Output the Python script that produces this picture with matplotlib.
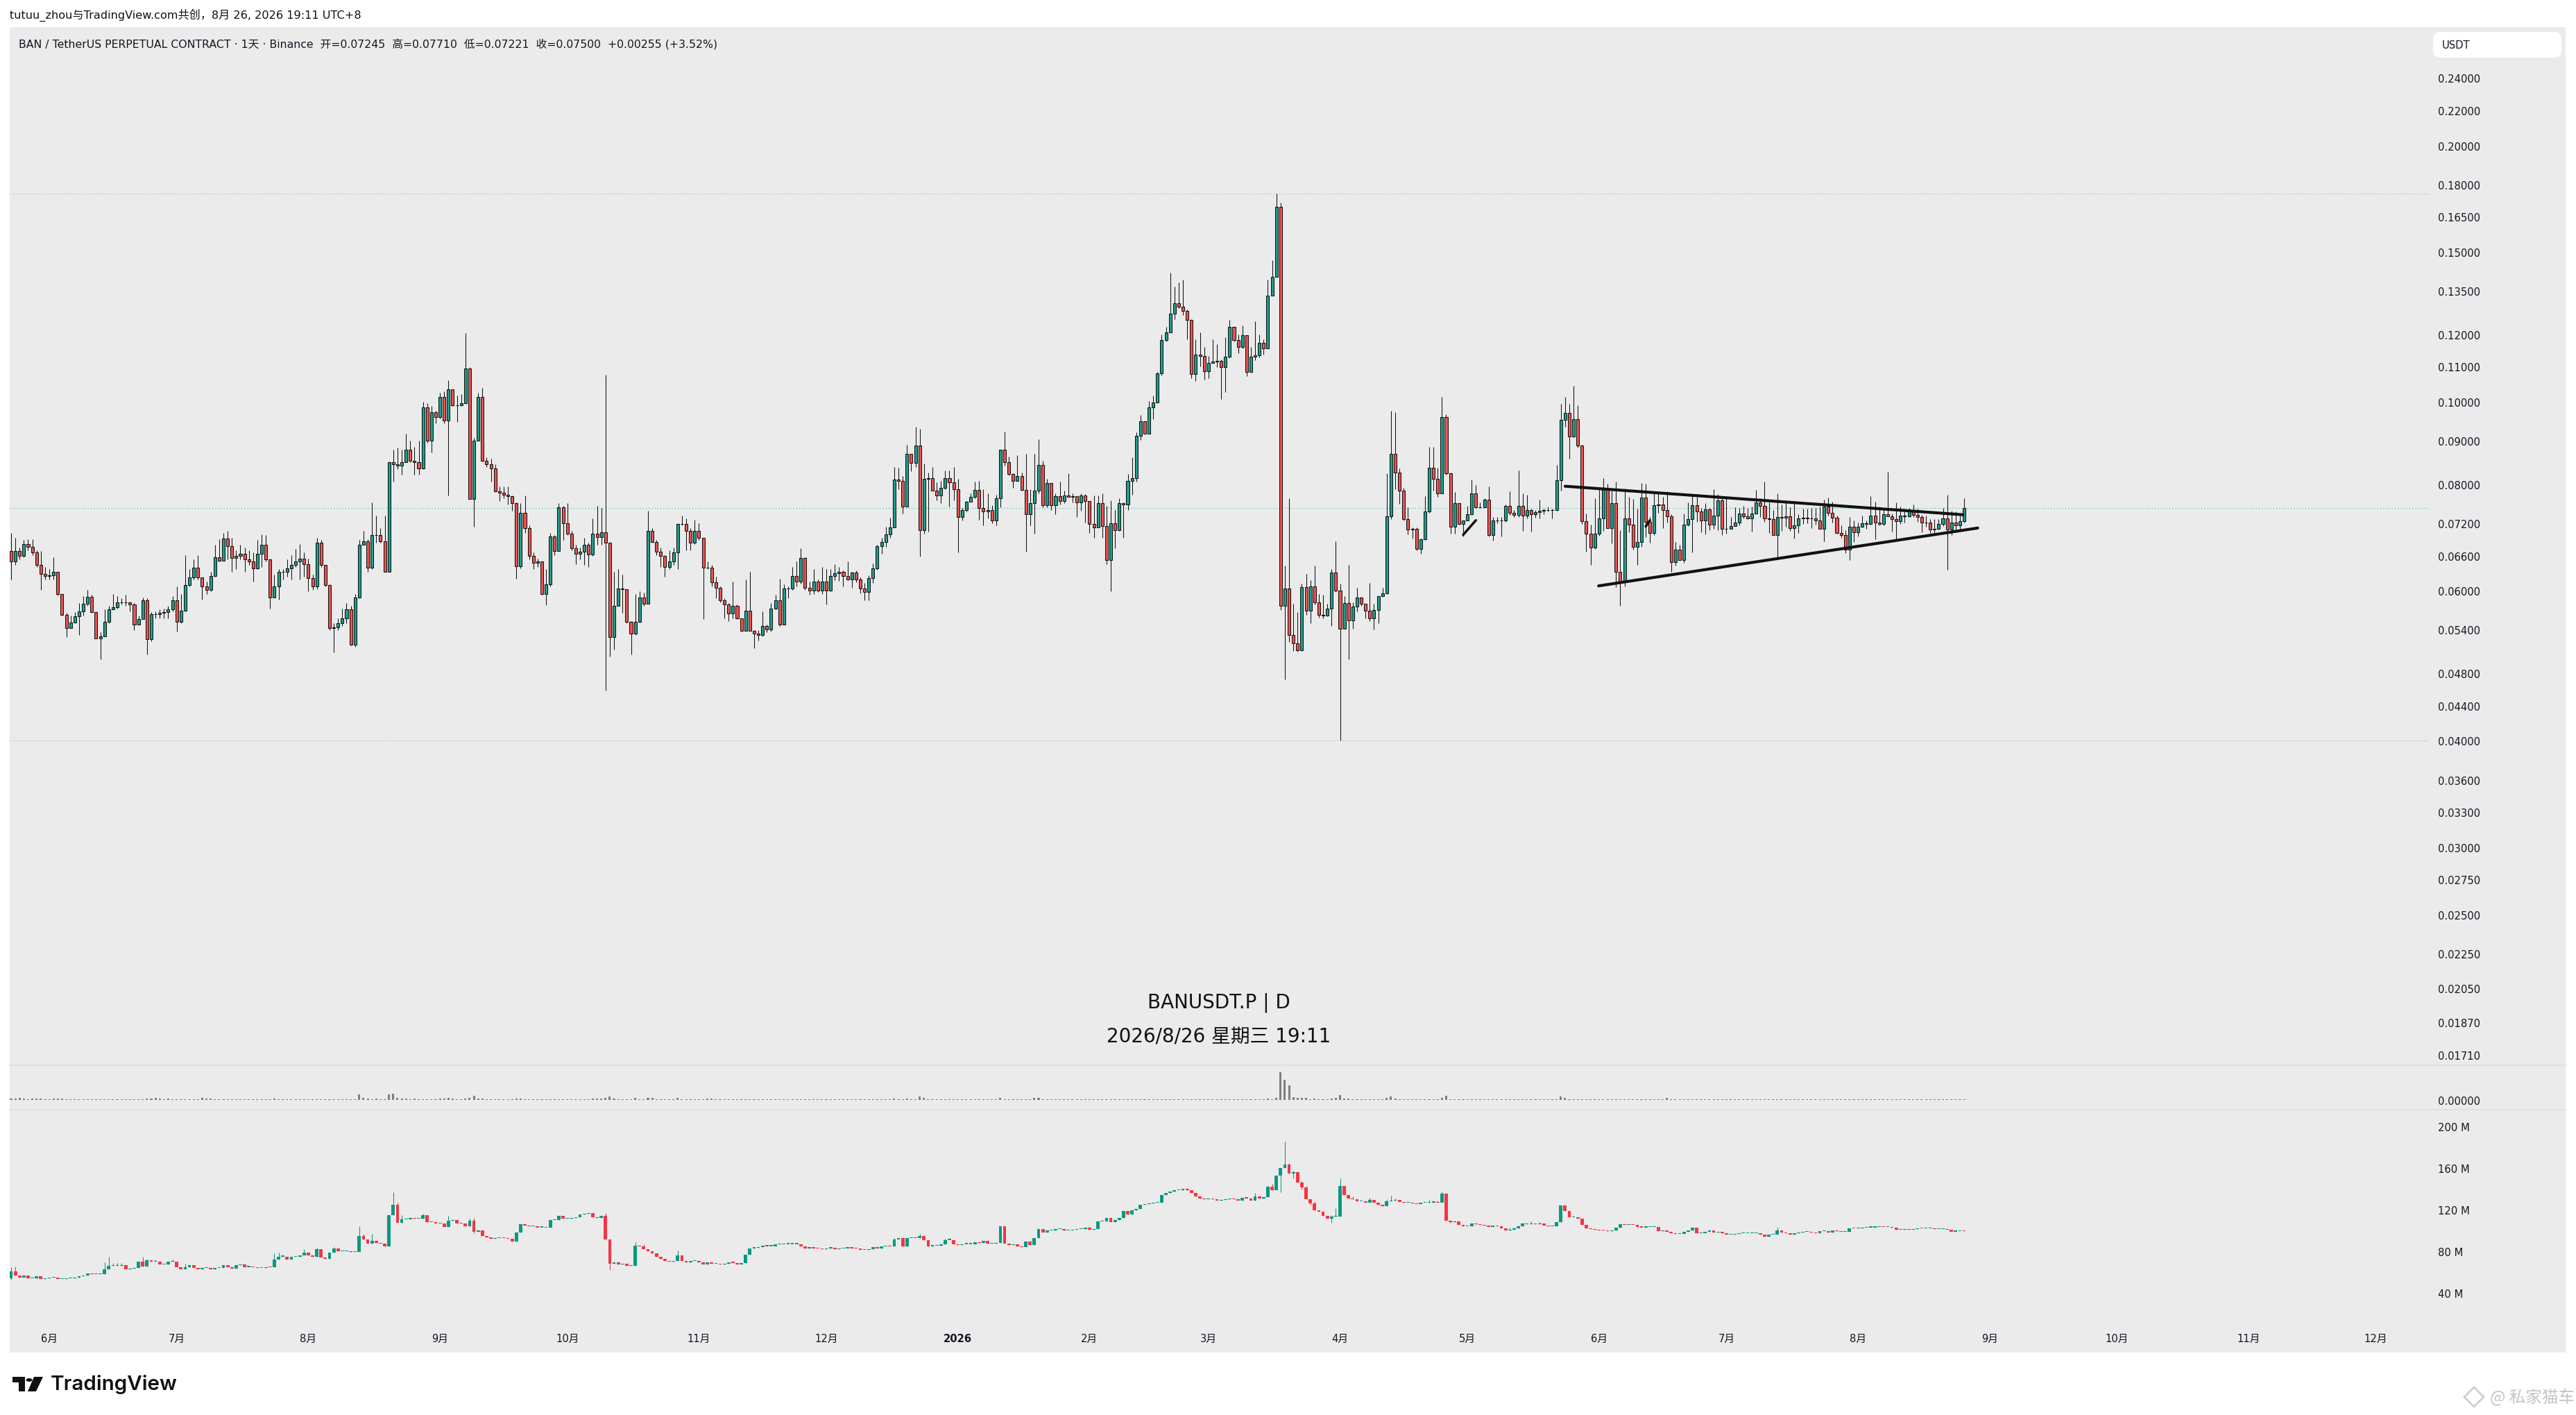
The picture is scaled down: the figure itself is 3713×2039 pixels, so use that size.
import numpy as np
import pandas as pd
import matplotlib
matplotlib.use("Agg")
import matplotlib.pyplot as plt
from matplotlib.patches import Rectangle, Polygon, Circle, FancyBboxPatch

# daily candles (open = previous close)
first_open = 0.0668
closes = [
    .0650,.0668,.0660,.0681,.0676,.0665,.0644,.0628,.0625,.0626,
    .0631,.0595,.0562,.0543,.0551,.0560,.0568,.0579,.0590,.0566,
    .0527,.0530,.0552,.0571,.0574,.0581,.0581,.0582,.0578,.0548,
    .0556,.0585,.0526,.0563,.0563,.0565,.0566,.0571,.0585,.0552,
    .0569,.0610,.0622,.0639,.0622,.0607,.0601,.0625,.0657,.0651,
    .0691,.0677,.0656,.0660,.0663,.0653,.0650,.0637,.0663,.0680,
    .0653,.0589,.0607,.0631,.0631,.0637,.0644,.0650,.0655,.0645,
    .0621,.0607,.0683,.0644,.0610,.0543,.0544,.0550,.0557,.0571,
    .0519,.0589,.0680,.0686,.0639,.0697,.0697,.0686,.0632,.0849,
    .0844,.0841,.0849,.0879,.0853,.0850,.0835,.0985,.0900,.0972,
    .0959,.1014,.0951,.1034,.0991,.0991,.0996,.1094,.0769,.0900,
    .1014,.0853,.0844,.0835,.0785,.0782,.0778,.0775,.0760,.0641,
    .0741,.0711,.0659,.0647,.0649,.0595,.0611,.0695,.0668,.0752,
    .0720,.0700,.0673,.0663,.0667,.0680,.0662,.0700,.0694,.0703,
    .0683,.0529,.0576,.0604,.0603,.0552,.0534,.0552,.0589,.0579,
    .0706,.0685,.0667,.0660,.0640,.0649,.0666,.0719,.0719,.0706,
    .0683,.0706,.0692,.0639,.0639,.0614,.0605,.0585,.0578,.0564,
    .0576,.0557,.0538,.0569,.0538,.0534,.0532,.0546,.0540,.0572,
    .0585,.0548,.0604,.0604,.0625,.0615,.0656,.0605,.0600,.0615,
    .0600,.0615,.0600,.0624,
    .0629,.0631,.0624,.0619,.0630,.0619,.0604,.0598,.0621,.0637,
    .0677,.0685,.0699,.0712,.0811,.0808,.0753,.0868,.0848,.0888,
    .0707,.0812,.0813,.0787,.0776,.0792,.0813,.0804,.0789,.0733,
    .0746,.0763,.0773,.0788,.0750,.0743,.0746,.0726,.0771,.0878,
    .0850,.0823,.0807,.0818,.0788,.0738,.0760,.0787,.0843,.0756,
    .0803,.0756,.0775,.0765,.0776,.0774,.0775,.0762,.0776,.0765,
    .0719,.0712,.0760,.0715,.0652,.0720,.0707,.0760,.0758,.0808,
    .0813,.0913,.0949,.0918,.0985,.0999,.1080,.1181,.1206,.1270,
    .1306,.1293,.1279,.1248,.1078,.1136,.1131,.1087,.1111,.1115,
    .1118,.1099,.1130,.1225,.1181,.1160,.1198,.1084,.1130,.1134,
    .1174,.1155,.1332,.1402,.1695,.0576,.0604,.0532,.0521,.0511,
    .0606,.0569,.0607,.0581,.0562,.0561,.0572,.0630,.0600,.0542,
    .0580,.0554,.0575,.0589,.0579,.0569,.0557,.0570,.0591,.0596,
    .0734,.0869,.0826,.0787,.0729,.0708,.0710,.0672,.0690,.0744,
    .0837,.0812,.0780,.0960,.0824,.0713,.0761,.0719,.0725,.0738,
    .0781,.0752,.0752,.0767,.0698,.0725,.0725,.0725,.0755,.0741,
    .0736,.0755,.0735,.0747,.0738,.0742,.0745,.0746,.0746,.0747,
    .0809,.0953,.0971,.0911,.0955,.0888,.0724,.0700,.0675,.0700,
    .0730,.0789,.0711,.0760,.0632,.0615,.0730,.0718,.0676,.0684,
    .0772,.0723,.0701,.0756,.0757,.0747,.0734,.0648,.0671,.0652,
    .0718,.0729,.0756,.0743,.0726,.0748,.0718,.0735,.0766,.0709,
    .0709,.0715,.0721,.0739,.0734,.0730,.0739,.0762,.0755,.0730,
    .0729,.0698,.0733,.0731,.0734,.0711,.0716,.0730,.0731,.0730,
    .0730,.0725,.0710,.0754,.0741,.0731,.0701,.0698,.0671,.0714,
    .0703,.0713,.0720,.0719,.0735,.0722,.0719,.0738,.0734,.0728,
    .0724,.0735,.0734,.0743,.0736,.0732,.0721,.0721,.0708,.0709,
    .0719,.0730,.0708,.0721,.0716,.07245,.0750,
]
highs = [
    .0702,.0693,.0675,.0688,.0690,.0690,.0670,.0668,.0640,.0636,
    .0657,.0631,.0595,.0565,.0561,.0566,.0580,.0591,.0601,.0594,
    .0568,.0536,.0571,.0576,.0595,.0591,.0588,.0594,.0583,.0580,
    .0561,.0589,.0588,.0566,.0568,.0571,.0572,.0576,.0591,.0607,
    .0595,.0661,.0636,.0653,.0661,.0622,.0615,.0631,.0679,.0690,
    .0702,.0706,.0693,.0670,.0679,.0675,.0670,.0666,.0688,.0699,
    .0697,.0653,.0627,.0636,.0636,.0653,.0661,.0672,.0681,.0666,
    .0655,.0627,.0693,.0688,.0644,.0611,.0550,.0557,.0572,.0580,
    .0576,.0595,.0688,.0706,.0690,.0762,.0735,.0711,.0735,.0851,
    .0878,.0884,.0878,.0917,.0901,.0886,.0901,.1000,.0997,.0989,
    .0976,.1024,.1028,.1060,.1034,.1018,.1021,.1204,.1098,.0907,
    .1024,.1038,.0861,.0858,.0844,.0795,.0795,.0795,.0777,.0762,
    .0760,.0777,.0716,.0666,.0655,.0649,.0636,.0702,.0697,.0760,
    .0755,.0760,.0706,.0679,.0675,.0693,.0683,.0730,.0755,.0750,
    .1075,.0683,.0631,.0636,.0627,.0603,.0553,.0595,.0599,.0597,
    .0745,.0711,.0688,.0675,.0661,.0670,.0675,.0720,.0735,.0730,
    .0711,.0727,.0720,.0693,.0649,.0644,.0623,.0607,.0588,.0580,
    .0615,.0578,.0557,.0619,.0631,.0539,.0539,.0568,.0548,.0580,
    .0594,.0620,.0611,.0607,.0640,.0649,.0673,.0657,.0615,.0636,
    .0619,.0640,.0636,.0636,
    .0645,.0640,.0634,.0650,.0632,.0634,.0622,.0613,.0626,.0646,
    .0680,.0693,.0713,.0731,.0839,.0837,.0818,.0890,.0868,.0935,
    .0930,.0847,.0826,.0839,.0804,.0808,.0830,.0830,.0839,.0812,
    .0750,.0765,.0780,.0806,.0807,.0789,.0780,.0756,.0778,.0878,
    .0922,.0862,.0824,.0866,.0826,.0868,.0789,.0868,.0904,.0853,
    .0812,.0803,.0781,.0806,.0786,.0824,.0781,.0775,.0781,.0779,
    .0765,.0777,.0777,.0780,.0755,.0766,.0746,.0770,.0762,.0823,
    .0861,.0920,.0965,.0949,.1001,.1017,.1085,.1200,.1225,.1417,
    .1365,.1380,.1390,.1283,.1250,.1184,.1207,.1160,.1131,.1184,
    .1169,.1121,.1190,.1247,.1225,.1200,.1230,.1198,.1160,.1243,
    .1200,.1184,.1390,.1465,.1756,.1714,.0642,.0771,.0579,.0566,
    .0612,.0628,.0617,.0642,.0595,.0594,.0579,.0636,.0686,.0612,
    .0591,.0644,.0582,.0605,.0590,.0579,.0613,.0579,.0591,.0605,
    .0824,.0976,.0973,.0836,.0793,.0752,.0712,.0712,.0691,.0775,
    .0885,.0885,.0837,.1014,.0966,.0826,.0783,.0755,.0716,.0755,
    .0811,.0798,.0762,.0770,.0795,.0733,.0733,.0733,.0758,.0785,
    .0746,.0830,.0780,.0778,.0749,.0746,.0767,.0749,.0754,.0749,
    .0843,.0995,.1014,.0995,.1044,.0990,.0890,.0740,.0718,.0771,
    .0793,.0814,.0801,.0786,.0806,.0707,.0791,.0773,.0769,.0749,
    .0803,.0801,.0732,.0780,.0785,.0774,.0785,.0738,.0685,.0680,
    .0740,.0762,.0778,.0773,.0751,.0761,.0750,.0789,.0779,.0773,
    .0773,.0733,.0752,.0750,.0755,.0750,.0753,.0788,.0771,.0806,
    .0762,.0747,.0781,.0758,.0762,.0752,.0761,.0738,.0749,.0749,
    .0750,.0750,.0754,.0768,.0772,.0764,.0735,.0716,.0707,.0733,
    .0726,.0722,.0735,.0726,.0775,.0764,.0754,.0751,.0827,.0740,
    .0762,.0754,.0749,.0750,.0758,.0749,.0736,.0735,.0729,.0728,
    .0729,.0750,.0778,.0745,.0743,.0735,.0771,
]
lows = [
    .0619,.0644,.0653,.0657,.0670,.0661,.0640,.0601,.0619,.0619,
    .0619,.0593,.0561,.0529,.0543,.0550,.0532,.0561,.0576,.0565,
    .0527,.0499,.0532,.0550,.0571,.0572,.0578,.0576,.0568,.0539,
    .0548,.0556,.0505,.0524,.0557,.0557,.0557,.0557,.0568,.0537,
    .0550,.0568,.0607,.0619,.0619,.0586,.0595,.0599,.0623,.0649,
    .0653,.0653,.0631,.0636,.0653,.0631,.0644,.0615,.0636,.0640,
    .0649,.0572,.0589,.0586,.0619,.0623,.0619,.0640,.0619,.0623,
    .0599,.0601,.0603,.0640,.0607,.0539,.0508,.0539,.0546,.0550,
    .0518,.0516,.0588,.0681,.0631,.0636,.0683,.0683,.0631,.0631,
    .0806,.0833,.0822,.0849,.0849,.0822,.0822,.0833,.0895,.0872,
    .0944,.0956,.0944,.0777,.0989,.0947,.0989,.0995,.0775,.0713,
    .0901,.0851,.0838,.0806,.0783,.0765,.0770,.0757,.0745,.0620,
    .0638,.0702,.0653,.0636,.0640,.0594,.0577,.0607,.0661,.0668,
    .0688,.0697,.0670,.0645,.0653,.0644,.0640,.0659,.0679,.0679,
    .0458,.0502,.0512,.0576,.0565,.0550,.0505,.0532,.0551,.0576,
    .0581,.0683,.0661,.0640,.0623,.0636,.0644,.0636,.0716,.0670,
    .0670,.0681,.0688,.0556,.0636,.0607,.0588,.0582,.0557,.0553,
    .0557,.0556,.0537,.0538,.0538,.0514,.0525,.0530,.0536,.0537,
    .0571,.0546,.0548,.0588,.0601,.0607,.0612,.0601,.0594,.0595,
    .0598,.0595,.0578,.0599,
    .0617,.0616,.0607,.0617,.0605,.0614,.0596,.0585,.0585,.0613,
    .0635,.0663,.0676,.0693,.0712,.0789,.0739,.0753,.0829,.0839,
    .0658,.0700,.0704,.0786,.0766,.0761,.0790,.0754,.0766,.0665,
    .0725,.0744,.0763,.0771,.0727,.0716,.0730,.0720,.0716,.0752,
    .0841,.0820,.0793,.0807,.0786,.0667,.0716,.0700,.0780,.0752,
    .0752,.0747,.0738,.0758,.0761,.0773,.0762,.0733,.0745,.0722,
    .0701,.0693,.0712,.0693,.0645,.0599,.0673,.0705,.0693,.0747,
    .0778,.0806,.0902,.0917,.0918,.0954,.0999,.1073,.1178,.1207,
    .1250,.1289,.1265,.1183,.1065,.1058,.1100,.1062,.1065,.1111,
    .1099,.1007,.1026,.1126,.1178,.1141,.1155,.1072,.1084,.1120,
    .1128,.1136,.1155,.1332,.1402,.0570,.0472,.0523,.0510,.0509,
    .0510,.0562,.0550,.0578,.0558,.0557,.0560,.0546,.0598,.0400,
    .0542,.0499,.0542,.0567,.0576,.0557,.0553,.0541,.0550,.0591,
    .0595,.0729,.0789,.0759,.0725,.0699,.0691,.0669,.0663,.0689,
    .0741,.0787,.0774,.0780,.0822,.0700,.0700,.0717,.0695,.0725,
    .0737,.0750,.0750,.0752,.0695,.0687,.0720,.0695,.0723,.0737,
    .0732,.0733,.0705,.0730,.0704,.0731,.0730,.0738,.0744,.0730,
    .0745,.0787,.0935,.0857,.0908,.0884,.0719,.0667,.0644,.0672,
    .0696,.0706,.0711,.0682,.0606,.0576,.0607,.0703,.0671,.0643,
    .0676,.0694,.0683,.0697,.0741,.0711,.0721,.0632,.0642,.0652,
    .0647,.0715,.0666,.0723,.0703,.0699,.0707,.0709,.0707,.0698,
    .0700,.0712,.0715,.0716,.0730,.0729,.0704,.0738,.0733,.0723,
    .0702,.0697,.0657,.0706,.0713,.0706,.0691,.0701,.0719,.0720,
    .0711,.0717,.0709,.0686,.0735,.0721,.0700,.0692,.0664,.0652,
    .0684,.0695,.0712,.0710,.0718,.0690,.0716,.0716,.0734,.0704,
    .0687,.0719,.0721,.0733,.0733,.0723,.0703,.0714,.0701,.0697,
    .0708,.0715,.0635,.0697,.0704,.0706,.07221,
]

# bottom pane candles (millions)
oi_first_open = 54
oi_closes = [
    61,57,55,56.5,54,54,56,53.5,54,54.5,
    55,53.5,53.5,54,54,55,56,57,59,58,
    57.8,57.8,63,66,66,66,66.5,62.5,63.5,64,
    70,65.5,71.5,70,70,67.5,67.5,70,70,65,
    62.5,65,66.5,64,62.5,64,64,62.5,64,64,
    67,65,63.5,66.5,67.5,65,65,64.5,64,64,
    65,64.5,72,75,75,72,74.5,74.5,76,78.5,
    76,74.5,82,74,73,79,83,80,80,80,
    79.5,79.5,94.5,91.5,87.5,90,88,87.5,85,115,
    125,107.5,110.5,110.5,112,111.5,111.5,115,108,108,
    107,106.5,103.5,109.5,110,107,106.5,104,109.5,99,
    100,95,93.5,92,93,92.5,92.5,92,89.5,98,
    106,105,104,104,103,103,102.5,110,110,114,
    111.5,111.5,112,113,115.5,116,116.5,113,112,114,
    91.5,68.2,69.5,67.5,68,66,66,85.5,84.5,82,
    80,78,75,72.5,71,70,70.5,76,70.5,69.5,
    70.5,70.5,69.5,67.5,69.5,68,68,67.5,67.7,69.5,
    69,67.5,69,77,83,83.5,84,85.5,85,85,
    86.5,86.7,87,87,87,87,85,83,83.5,83,
    82.5,82,83,83.5,82,82.5,83,83.5,83,82.5,
    81.5,81.5,82,84,82.5,84.5,85,84.5,91.5,92.5,
    85,92.5,92.5,93,94.5,90.5,85,85.3,85.3,87,
    91,91,87,86,87,87,87,88.6,88,90,
    87.2,87.2,88,103.9,87.5,85.9,86.4,85,84,89.4,
    85.9,92.7,101.4,98.2,99.8,100.3,101.2,101.4,100.3,100.3,
    100.6,101.2,101.2,103,100.9,101.2,108.5,108.5,111.8,108,
    109.8,112,119,115.3,119.3,121,124.5,125.3,126,126.4,
    126.4,134.3,135.7,137.6,138.4,139,139.8,138.4,136.2,132.7,
    130.8,130.2,130.8,130.2,128.6,129.5,129.7,130.6,130,128.6,
    131.3,131,128.6,132.6,130.6,131.7,142,138.6,152.6,160,
    163.3,154.6,156,146,141.3,130,126,119.3,118,114,
    111.3,113.3,113.3,142.6,134,130.6,130,128,128,126.6,
    129.3,126.6,124.6,123.3,128,128.6,129.3,127.3,126.6,126.6,
    126,125.3,126.6,126.6,127,127.3,126.6,135.3,109.3,108,
    108.6,105.3,104,104,106.6,106,105.3,104.6,103.3,104.6,
    104,102,100,101,102,104,106.6,106,106.4,106.2,
    106.4,104.6,104,104.2,108,124,118.8,112.6,112.6,111.2,
    105.2,101.7,101.1,100.6,100.3,100.1,99.5,100.3,103,106.3,
    105.5,105.5,105.2,103.6,103,103.6,103.6,103.6,99.5,99.8,
    98.4,97.6,96.8,96.8,98.4,100.3,102.8,97.6,97.6,98.4,
    100.1,97.9,99,97.6,96,96.2,96.8,97.3,97.6,97.6,
    97.6,97.6,96.2,94.3,95.7,96.2,100.3,97.9,97.6,96,
    97.6,98.1,98.4,98.4,98.1,97.6,99.5,99.5,98.1,100.3,
    99.5,98.4,99,101.9,101.7,101.7,102.5,103,103,103.6,
    103.6,103.3,103.6,102.7,100.9,100.9,101.1,100.9,101.1,101.9,
    101.7,101.7,101.7,101.1,101.1,101.1,100.9,99,99.3,99.3,
    99.2,
]
# only the wicks that stick out visibly (candle index: value)
oi_wick_highs = {
    0:65, 1:65.5, 22:69.5, 23:75, 24:69, 25:69, 26:69, 31:74.5, 32:73, 34:72, 38:72, 41:68,
    62:78, 63:79, 69:82, 72:83.5, 76:84, 82:104, 83:96.7, 85:96.7, 90:136.7, 91:126.5,
    92:115, 97:116, 103:114, 108:111.6, 109:112, 140:117, 147:88.7, 149:86.5, 157:80.5,
    208:93, 214:97, 220:92, 293:136, 296:142.6, 297:144.6, 300:185.3, 301:164.6, 302:157.3,
    304:147.3, 305:142.6, 307:128, 311:114.6, 312:121.3, 313:150, 316:132.6, 320:131.3,
    324:130, 325:133.3, 326:130.6, 334:129.3, 336:128.6, 337:137.3, 340:109.3, 353:102.6,
    354:102.6, 355:104.6, 356:107.3, 358:108.6, 360:108, 416:103.5,
}
oi_wick_lows = {
    0:53, 109:97.5, 141:62, 299:136.6, 302:150, 304:139.3, 306:124.6, 311:107.3, 339:107.3,
}

# volume bars, in pane units
volumes = [
    2,2,3,2,1.5,2.5,2,2,1.5,1.5, 2,2,2,1.5,1.5,1.5,1,1,1,1,
    1.5,1,1.5,1,1,1.5,1,1,1.5,1.5, 1,1,2,2.5,3,2,1.5,2,1.5,1,
    1,1.5,1.5,1,1.5,3,2.5,2,1.5,1.5, 1,1,1,1,1.5,1.5,1,1,1.5,1,
    1.5,1.5,2,1.5,1,1,1.5,1.5,1,1.5, 1.5,1,1,1,1.5,1.5,1,1,1,1.5,
    1,1.5,8,3.5,2,1.5,2,1,1,8, 8.7,3,2,2.5,1.5,2,1.5,1.5,1.5,1.5,
    1.5,2,2.5,3,2,1,1,2.5,3,6, 2.5,2,1.5,1,1.5,1,1,1,1.5,2.5,
    2.5,1.5,1,1.5,1,1,1.5,1.5,1,1.5, 1,1,1.5,1,1,1.5,1.5,2,2,2,
    3,5.5,2,1.5,1,1,1,3.5,1,1, 3,3,1.5,1,1,1.5,1,3,1.5,1.5,
    1,1,1,1,2.5,2.5,1,1,1,1, 1,1,1,1.5,1,1,1,1,1,1.5,
    1.5,1,1,1,1,1,1,1,1,1, 1,1,1,1,1,1,1,1,1,1,
    1,1,1,1,1,1,1,1,2,1.5, 1.5,2.5,1,1,5.5,3,1.5,1.5,1,1,
    1,1,1,1,1,1,1,1,1,1, 1,1,1.5,3,1.5,1,1,1,1,1,
    1,3,3,1.5,1,1,1,1,1,1, 1,1,1.5,1,1,1.5,1,1,1,1.5,
    1,1,1.5,1,1,1,1.5,1,1,1, 1.5,1,1,1.5,1,1,1.5,1,1,1,
    1,1.5,1,1,1.5,1,1,1,1.5,1,
    1,1,1,1,1,1,2,1.5,3.5,40, 29,21,4.5,3.5,3.5,3.5,1.5,2.5,1.5,1,
    1,2.5,3.5,7.5,2,2,1.5,1,1,1, 1,1,1,1,3,5.5,2.5,1,1,1,
    1,1,1,1,1,1,1,3.5,6,1.5, 1,1,1,1,1,1,1,1,1,1,
    1,1,1,1,1,1,1,1,1,1, 1,1,1,1,1,5.5,3,1.5,1.5,1,
    1,1,1.5,1,1,1,1,1,1,1, 1,1,1,1,1.5,1,1,1,1,1,
    3,1,1,1.5,1,1,1,1,1,1, 1,1,1,1,1,1,1,1,1,1,
    1,1,1,1,1,1,1,1,1,1, 1,1,1,1,1,1,1,1,1,1,
    1,1,1,1,1,1,1,1,1,1, 1,1,1,1,1,1,1,1,1,1,
    1,1,1,1,1,1,1,1,1,1, 1,
]

price_ticks = [.24,.22,.20,.18,.165,.15,.135,.12,.11,.10,.09,.08,.072,.066,.06,.054,
               .048,.044,.04,.036,.033,.03,.0275,.025,.0225,.0205,.0187,.0171]
oi_ticks = [40, 80, 120, 160, 200]
start_date = "2025-05-23"
last_price = 0.075
top_level = 0.1756
bottom_level = 0.04

W, H = 3713, 2040
FONT = ["DejaVu Sans", "Noto Sans CJK SC"]
TEXT = "#131722"
UP, DOWN = "#1f9e8e", "#ef5350"
OI_UP, OI_DOWN = "#089981", "#f23645"
plt.rcParams["font.family"] = FONT

fig = plt.figure(figsize=(W / 100, H / 100), dpi=100, facecolor="white")


def fx(x):
    return x / W


def fy(y):
    return 1 - y / H


def pane(left, top, right, bottom):
    ax = fig.add_axes([fx(left), fy(bottom), (right - left) / W, (bottom - top) / H])
    ax.patch.set_alpha(0)
    for s in ax.spines.values():
        s.set_visible(False)
    ax.set_xlim(-0.33, 569.3)
    ax.yaxis.tick_right()
    ax.tick_params(axis="y", length=0, pad=10, labelsize=10.6, labelcolor=TEXT)
    ax.tick_params(axis="x", length=0, bottom=False, labelbottom=False)
    ax.minorticks_off()
    return ax


def body_wick(ax, o, c, h, l, up, down, edge, wick_w, width, min_h=0):
    idx = np.arange(len(c))
    is_up = c >= o
    cols = np.where(is_up, up, down)
    wick_cols = edge if edge else cols
    ax.vlines(idx, l, h, colors=wick_cols, linewidth=wick_w, zorder=2)
    ax.bar(idx, np.maximum(np.abs(c - o), min_h), bottom=np.minimum(o, c), width=width, color=cols,
           edgecolor=edge if edge else cols, linewidth=0.75 if edge else 0, zorder=3)


# chart background panel
fig.add_artist(Rectangle((fx(14), fy(1950)), 3684 / W, 1910 / H, transform=fig.transFigure,
                         facecolor="#ebebeb", edgecolor="none", zorder=-5))

# price pane
ax = pane(14, 40, 3500, 1536)
ax.set_yscale("log")
ax.set_ylim(0.01664, 0.2754)
c = np.array(closes)
o = np.r_[first_open, c[:-1]]
h = np.maximum(np.array(highs), np.maximum(o, c))
l = np.minimum(np.array(lows), np.minimum(o, c))
ax.axhline(top_level, color="#9c9c9c", lw=0.75, ls=(0, (1, 3)), zorder=1)
ax.axhline(bottom_level, color="#9c9c9c", lw=0.75, ls=(0, (1, 3)), zorder=1)
ax.axhline(last_price, color="#22ab94", lw=0.75, ls=(0, (1, 3)), zorder=1)
body_wick(ax, o, c, h, l, UP, DOWN, "#111111", 0.75, 0.66)
ax.set_yticks(price_ticks)
ax.set_yticklabels([f"{t:.5f}" for t in price_ticks], va="center_baseline")
ax.minorticks_off()

# hand drawn lines
ax.plot([366, 459.7], [.0796, .0737], color="#111111", lw=3, solid_capstyle="round", zorder=5)
ax.plot([373.9, 463.2], [.0608, .0711], color="#111111", lw=3, solid_capstyle="round", zorder=5)
ax.plot([342, 345], [.0698, .0726], color="#111111", lw=2.5, solid_capstyle="round", zorder=5)
ax.plot([385, 386], [.0714, .0726], color="#111111", lw=2.5, solid_capstyle="round", zorder=5)

# volume pane
vol = pane(14, 1536, 3500, 1600)
vol.set_ylim(-14, 50)
vol.bar(np.arange(len(volumes)), volumes, width=0.5, color="#7f7f7f")
vol.set_yticks([0])
vol.set_yticklabels(["0.00000"], va="center_baseline")

# bottom pane
low = pane(14, 1600, 3500, 1912)
low.set_ylim(8, 216)
oc = np.array(oi_closes, dtype=float)
oo = np.r_[oi_first_open, oc[:-1]]
oh = np.maximum(oo, oc)
ol = np.minimum(oo, oc)
for i, v in oi_wick_highs.items():
    oh[i] = max(oh[i], v)
for i, v in oi_wick_lows.items():
    ol[i] = min(ol[i], v)
body_wick(low, oo, oc, oh, ol, OI_UP, OI_DOWN, None, 0.75, 0.78, min_h=0.7)
low.set_yticks(oi_ticks)
low.set_yticklabels([f"{t} M" for t in oi_ticks], va="center_baseline")

# months along the bottom
dates = pd.date_range(start_date, periods=600)
months = pd.date_range("2025-06-01", "2026-12-01", freq="MS")
month_pos = [(m - dates[0]).days for m in months]
month_labels = ["2026" if m.month == 1 else f"{m.month}月" for m in months]
low.set_xticks(month_pos)
low.set_xticklabels(month_labels)
low.tick_params(axis="x", labelbottom=True, pad=7, labelsize=10.6, labelcolor=TEXT)
for lab, m in zip(low.get_xticklabels(), months):
    if m.month == 1:
        lab.set_fontweight("bold")

# separators between panes
for y in (1536, 1600):
    fig.add_artist(plt.Line2D([fx(14), fx(3698)], [fy(y), fy(y)], color="#e0e0e0", lw=1.4))

# headline texts
fig.text(fx(14), fy(22), "tutuu_zhou与TradingView.com共创，8月 26, 2026 19:11 UTC+8",
         fontsize=11.6, color="#111111", va="center")
fig.text(fx(27), fy(64), "BAN / TetherUS PERPETUAL CONTRACT · 1天 · Binance  开=0.07245  高=0.07710  低=0.07221  收=0.07500  +0.00255 (+3.52%)",
         fontsize=11.3, color=TEXT, va="center")
fig.text(fx(1757), fy(1445), "BANUSDT.P | D", fontsize=20, color="#111111", ha="center", va="center")
fig.text(fx(1757), fy(1495), "2026/8/26 星期三 19:11", fontsize=20, color="#111111", ha="center", va="center")

# USDT badge
fig.add_artist(FancyBboxPatch((fx(3511), fy(80)), 177 / W, 29 / H, transform=fig.transFigure,
                              boxstyle="round,pad=0,rounding_size=0.002", mutation_aspect=W / H,
                              facecolor="white", edgecolor="white", linewidth=6, zorder=1))
fig.text(fx(3520), fy(66), "USDT", fontsize=10.6, color=TEXT, va="center", zorder=2)

# logo bottom left
for pts in ([(18, 1985), (36, 1985), (36, 2006), (27, 2006), (27, 1993), (18, 1993)],
            [(49, 1985), (62, 1985), (52, 2006), (40, 2006)]):
    fig.add_artist(Polygon([(fx(a), fy(b)) for a, b in pts], transform=fig.transFigure,
                           facecolor="#111111", edgecolor="none"))
fig.add_artist(Circle((fx(42), fy(1989.5)), 4.5 / W, transform=fig.transFigure, facecolor="#111111", edgecolor="none"))
fig.text(fx(73), fy(1995), "TradingView", family="Inter", fontsize=21.3, fontweight="semibold",
         color="#111111", va="center")

# watermark bottom right
fig.add_artist(Polygon([(fx(a), fy(b)) for a, b in [(3566, 2000), (3580, 2014), (3566, 2028), (3552, 2014)]],
                       transform=fig.transFigure, facecolor="none", edgecolor="#cfcfcf", linewidth=2))
fig.text(fx(3589), fy(2014), "@ 私家猫车", family=["Noto Sans CJK SC", "DejaVu Sans"], fontsize=17,
         color="#c4c4c4", va="center")

fig.savefig("out.png", dpi=100)
